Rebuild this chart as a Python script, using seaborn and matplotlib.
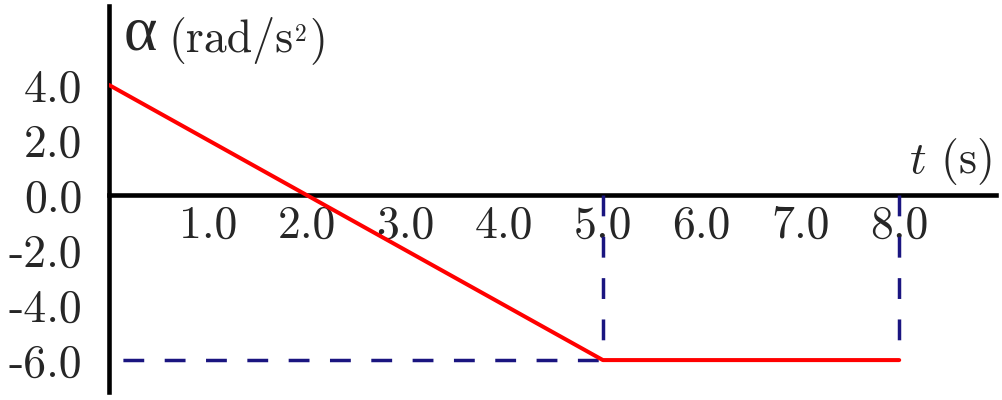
import pandas as pd
import numpy as np
import matplotlib
matplotlib.use('Agg')
import matplotlib.pyplot as plt
import seaborn as sns

# Remove the angry pink boxes
import warnings
warnings.filterwarnings("ignore")

# angular acceleration vs time (corner points of the graph)
t_vals = [0.0, 5.0, 8.0]
alpha_vals = [4.0, -6.0, -6.0]

x_ticks = [1, 2, 3, 4, 5, 6, 7, 8]
x_labels = ['1.0', '2.0', '3.0', '4.0', '5.0', '6.0', '7.0', '8.0']
y_ticks = [4, 2, 0, -2, -4, -6]
y_labels = ['4.0', '2.0', '0.0', '-2.0', '-4.0', '-6.0']

sns.set_style('white')
plt.rcParams['font.family'] = ['cmr10', 'DejaVu Serif']
plt.rcParams['mathtext.fontset'] = 'cm'
plt.rcParams['axes.unicode_minus'] = False

fig = plt.figure(figsize=(10.03, 4.0), dpi=100)
ax = fig.add_axes([109 / 1003, 8 / 400, 887 / 1003, 386 / 400])

df = pd.DataFrame({'t': t_vals, 'alpha': alpha_vals})

# dashed guide lines down to the flat part
guide = '#1a1580'
lw_guide = 2.5
ax.plot([t_vals[0], t_vals[1]], [alpha_vals[1], alpha_vals[1]],
        color=guide, lw=lw_guide, linestyle=(7.9, (6.0, 5.9)), zorder=2)
for tv in t_vals[1:]:
    ax.plot([tv, tv], [0, alpha_vals[-1]], color=guide, lw=lw_guide,
            linestyle=(0, (6.0, 5.9)), zorder=2)

# the graph itself
sns.lineplot(data=df, x='t', y='alpha', color='red', lw=2.9, ax=ax,
             zorder=3, sort=False)

ax.set_xlim(0, 8.98)
ax.set_ylim(-7.16, 6.87)

# axes through the origin
for side in ['top', 'right']:
    ax.spines[side].set_visible(False)
ax.spines['bottom'].set_position(('data', 0))
ax.spines['left'].set_position(('data', 0))
for side in ['bottom', 'left']:
    ax.spines[side].set_linewidth(3.3)
    ax.spines[side].set_color('black')
    ax.spines[side].set_zorder(1)

ax.set_xticks(x_ticks)
ax.set_xticklabels(x_labels)
ax.set_yticks(y_ticks)
ax.set_yticklabels(y_labels)
ax.tick_params(axis='both', direction='inout', length=10, width=2.2,
               color='black', labelsize=33)
ax.tick_params(axis='x', pad=2)
ax.tick_params(axis='y', pad=14)
ax.set_xlabel('')
ax.set_ylabel('')
ax.grid(False)

# axis titles
ax.text(0.15, 5.3, 'α', fontsize=46, va='baseline', ha='left',
        family=['Liberation Serif'])
unit = ax.text(0.60, 5.2, '(rad/s', fontsize=33, va='baseline', ha='left')
sup = ax.annotate('2', xy=(1, 1), xycoords=unit, xytext=(1, -5),
                  textcoords='offset points', fontsize=17, va='top', ha='left')
ax.annotate(')', xy=(1, 0), xycoords=(sup, unit), xytext=(2, 0),
            textcoords='offset points', fontsize=33, va='bottom', ha='left')
ax.text(8.94, 0.8, r'$t$ (s)', fontsize=33, va='baseline', ha='right')

fig.savefig('out.png', dpi=100)
